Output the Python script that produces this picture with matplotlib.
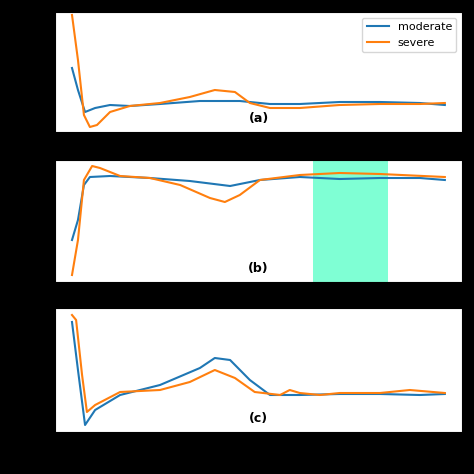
import matplotlib
matplotlib.use("Agg")
import matplotlib.pyplot as plt

t_a_mod = [0,1.6,3.5,6.2,10.2,15.5,23.6,34.3,45,53.1,61.1,71.8,82.6,93.3,100]
v_a_mod = [64,42,20,24,27,26,28,31,31,28,28,30,30,29,27]
t_a_sev = [0,1.6,3.2,4.8,6.7,10.2,15.5,23.6,31.6,38.3,43.7,47.7,53.1,61.1,71.8,82.6,93.3,100]
v_a_sev = [117,72,17,5,7,20,26,29,35,42,40,29,24,24,27,28,28,29]
t_b_mod = [0,1.6,3.2,4.8,10.2,20.9,31.6,42.4,50.4,61.1,71.8,82.6,93.3,100]
v_b_mod = [42,62,97,105,106,104,101,96,102,105,103,104,104,102]
t_b_sev = [0,1.6,3.2,5.4,7.5,12.9,20.9,29,37,41,45,50.4,61.1,71.8,82.6,100]
v_b_sev = [7,42,102,116,114,106,104,97,84,80,87,102,107,109,108,105]
t_c_mod = [0,1.6,3.5,6.2,12.9,23.6,34.3,38.3,42.4,47.7,53.1,61.1,71.8,82.6,93.3,100]
v_c_mod = [110,62,7,22,37,47,64,74,72,52,37,37,38,38,37,38]
t_c_sev = [0,1.1,2.7,4,6.2,12.9,23.6,31.6,38.3,43.7,49,55.8,58.4,61.1,66.5,71.8,82.6,90.6,100]
v_c_sev = [117,112,57,20,27,40,42,50,62,54,40,37,42,39,37,39,39,42,39]
span_b = (64.6, 84.7)
labels = ["(a)", "(b)", "(c)"]

fig = plt.figure(figsize=(4.74, 4.74), dpi=100, facecolor="black")
W = H = 474.0
boxes = [(12, 132), (160, 282), (308, 432)]
data = [(t_a_mod, v_a_mod, t_a_sev, v_a_sev),
        (t_b_mod, v_b_mod, t_b_sev, v_b_sev),
        (t_c_mod, v_c_mod, t_c_sev, v_c_sev)]
for i, ((top, bot), (tm, vm, ts, vs)) in enumerate(zip(boxes, data)):
    ax = fig.add_axes([55/W, 1-bot/H, (462-55)/W, (bot-top)/H])
    ax.set_facecolor("white")
    ax.plot(tm, vm, color="#1f77b4", lw=1.5, label="moderate")
    ax.plot(ts, vs, color="#ff7f0e", lw=1.5, label="severe")
    if i == 1:
        ax.axvspan(*span_b, color="#7fffd4", lw=0)
    ax.set_xlim(-4.56, 104.6)
    ax.set_ylim(0, bot-top)
    ax.set_xticks([])
    ax.set_yticks([])
    ax.text(0.5, 0.06, labels[i], transform=ax.transAxes, ha="center",
            va="bottom", fontweight="bold", fontsize=9)
    if i == 0:
        ax.legend(loc="upper right", fontsize=8)
fig.savefig("out.png", dpi=100, facecolor="black")
